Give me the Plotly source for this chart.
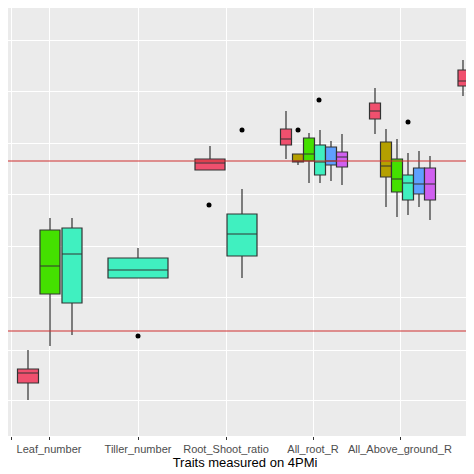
import plotly.graph_objects as go

# box stats (pixel rows), converted to a 0-8.4 scale below
centers = [20, 42, 64, 130, 202, 234, 278, 290, 301, 312, 323, 334,
           367, 378, 389, 400, 411, 422, 455, 465, 477]
widths = [21, 20, 20, 60, 30, 30, 11, 11, 11, 11, 11, 11,
          11, 11, 11, 11, 11, 11, 10, 11, 11]
colors = ["#f0506e", "#44e000", "#40f0c0", "#40f0c0", "#f0506e", "#40f0c0",
          "#f0506e", "#b5a000", "#44e000", "#40f0c0", "#5fa0ff", "#d060f0",
          "#f0506e", "#b5a000", "#44e000", "#40f0c0", "#5fa0ff", "#d060f0",
          "#f0506e", "#b5a000", "#44e000"]
upper = [342, 210, 210, 240, 138, 181, 103, 146, 125, 122, 133, 126, 80, 121, 131, 145, 143, 148, 52, 104, 104]
q3 = [361, 222, 220, 250, 151, 206, 121, 146, 130, 137, 139, 144, 95, 134, 151, 167, 160, 160, 62, 118, 113]
med = [365, 258, 246, 262, 155, 226, 131, 153, 146, 154, 153, 149, 103, 158, 171, 175, 176, 176, 73, 131, 125]
q1 = [375, 286, 295, 270, 162, 248, 137, 154, 153, 167, 157, 159, 111, 169, 184, 192, 186, 192, 78, 137, 137]
lower = [392, 338, 327, 270, 162, 270, 151, 157, 175, 175, 173, 177, 126, 199, 209, 207, 199, 212, 88, 141, 145]

out_x = [130, 201, 234, 290, 311, 400]
out_y = [328, 197, 122, 122, 92, 114]

cat_pos = [3, 41, 130, 218, 305, 392, 471]
cat_names = ["Traits", "Leaf_number", "Tiller_number", "Root_Shoot_ratio",
             "All_root_R", "All_Above_ground_R", "All_Above"]
ref_lines = [153, 323]
grid_rows = [32, 83, 135, 186, 238, 289, 342, 392]


def sc(p):
    return (428 - p) / 51


fig = go.Figure()
for i in range(len(centers)):
    fig.add_trace(go.Box(
        x=[centers[i]], q1=[sc(q1[i])], median=[sc(med[i])], q3=[sc(q3[i])],
        lowerfence=[sc(lower[i])], upperfence=[sc(upper[i])],
        width=widths[i], fillcolor=colors[i],
        line=dict(color="#333333", width=1.2), whiskerwidth=0,
        showlegend=False, hoverinfo="skip"))

fig.add_trace(go.Scatter(x=out_x, y=[sc(v) for v in out_y], mode="markers",
                         marker=dict(color="black", size=5), showlegend=False))

for r in ref_lines:
    fig.add_shape(type="line", xref="paper", x0=0, x1=1, yref="y",
                  y0=sc(r), y1=sc(r), line=dict(color="#d03030", width=1.2),
                  layer="above")

fig.update_layout(
    width=474, height=474, margin=dict(l=0, r=0, t=0, b=46),
    plot_bgcolor="#ebebeb", paper_bgcolor="white",
    font=dict(family="Liberation Sans, Arial", color="#4d4d4d", size=11),
    xaxis=dict(range=[0, 474], tickvals=cat_pos, ticktext=cat_names,
               automargin=False,
               gridcolor="white", gridwidth=1.2, zeroline=False, ticks="outside",
               ticklen=3, tickcolor="#333333",
               title=dict(text="Traits measured on 4PMi", standoff=0,
                          font=dict(color="black", size=13))),
    yaxis=dict(range=[0, sc(0)], tickvals=[sc(g) for g in grid_rows],
               automargin=False,
               showticklabels=False, gridcolor="white", gridwidth=1.2,
               zeroline=False),
)

fig.write_html("out.html")
